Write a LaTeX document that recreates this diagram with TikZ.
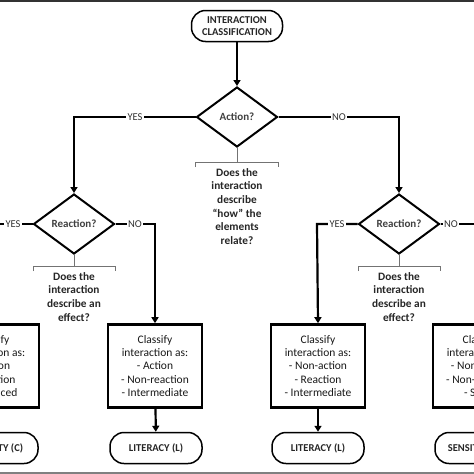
\documentclass[tikz,border=0pt]{standalone}
\usepackage{fontspec}
\setmainfont{Carlito}
\usetikzlibrary{shapes.geometric,arrows.meta}
\begin{document}
\begin{tikzpicture}[x=1pt,y=-1pt,
  flow/.style={line width=2.2pt, draw=black},
  arr/.style={flow, -{Triangle[length=6pt,width=7pt]}},
  term/.style={draw, line width=1.5pt, rounded corners=14pt, minimum width=91pt, minimum height=31pt, inner sep=0pt, align=center, text=black!85, font=\bfseries\fontsize{10.5}{12.5}\selectfont},
  dia/.style={draw, diamond, line width=2pt, minimum width=81pt, minimum height=60pt, inner sep=0pt, text=black!75, font=\bfseries\fontsize{11}{13}\selectfont},
  cbox/.style={draw, line width=2.6pt, minimum width=94pt, minimum height=83pt, inner sep=0pt, align=center, text=black!90, font=\fontsize{11.5}{13.4}\selectfont},
  ques/.style={anchor=north, align=center, inner sep=0pt, text=black!85, font=\bfseries\fontsize{11.3}{13.7}\selectfont},
  lbl/.style={fill=white, inner sep=1.2pt, text=black!80, font=\fontsize{10.5}{12}\selectfont},
  brk/.style={draw=black!55, line width=0.8pt}
]
\useasboundingbox (0,0) rectangle (474,474);
\clip (0,0) rectangle (474,474);
\fill[white] (0,0) rectangle (474,474);
% frame bands
\fill[black!80] (0,0) rectangle (474,2);
\fill[black!50] (0,472) rectangle (474,474);

% nodes
\node[term] (start) at (237,26) {INTERACTION\\CLASSIFICATION};
\node[dia] (action) at (237,117) {Action?};
\node[dia] (reactL) at (74,224) {Reaction?};
\node[dia] (reactR) at (399,224) {Reaction?};

\node[cbox] (boxC) at (-8,366) {Classify\\interaction as:\\- Action\\- Reaction\\- Produced};
\node[cbox] (boxL1) at (155,366) {Classify\\interaction as:\\- Action\\- Non-reaction\\- Intermediate};
\node[cbox] (boxL2) at (318,366) {Classify\\interaction as:\\- Non-action\\- Reaction\\- Intermediate};
\node[cbox] (boxS) at (480,366) {Classify\\interaction as:\\- Non-action\\- Non-reaction\\- Static};

\node[term, minimum width=92pt] (termC) at (-8,448) {CAUSALITY (C)};
\node[term, minimum width=92pt] (termL1) at (156,448) {LITERACY (L)};
\node[term, minimum width=92pt] (termL2) at (318,448) {LITERACY (L)};
\node[term, minimum width=92pt] (termS) at (481,448) {SENSITIVITY (S)};

% question texts
\node[ques] (qA) at (237,168) {Does the\\interaction\\describe\\“how” the\\elements\\relate?};
\node[ques] (qL) at (74,272) {Does the\\interaction\\describe an\\effect?};
\node[ques] (qR) at (399,272) {Does the\\interaction\\describe an\\effect?};

% corner coordinates
\coordinate (cAL) at (74,117);
\coordinate (cAR) at (399,117);
\coordinate (cLY) at (-8,224);
\coordinate (cLN) at (155,224);
\coordinate (cRY) at (317,224);
\coordinate (cRN) at (520,224);

% brackets
\coordinate (bA) at (237,162);
\coordinate (bL) at (74,266);
\coordinate (bR) at (399,266);
\draw[brk] (action.south) -- (bA);
\draw[brk] (195,167) -- (195,162) -- (278,162) -- (278,167);
\draw[brk] (reactL.south) -- (bL);
\draw[brk] (33,271) -- (33,266) -- (115,266) -- (115,271);
\draw[brk] (reactR.south) -- (bR);
\draw[brk] (358,271) -- (358,266) -- (440,266) -- (440,271);

% flow
\draw[arr] (start) -- (action);
\draw[arr] (action.west) -- (cAL) -- (reactL.north);
\draw[arr] (action.east) -- (cAR) -- (reactR.north);
\draw[arr] (reactL.west) -- (cLY) -- (boxC.north);
\draw[arr] (reactL.east) -- (cLN) -- (boxL1.north);
\draw[arr] (reactR.west) -- (cRY) -- (boxL2.north);
\draw[flow] (reactR.east) -- (cRN);
\draw[arr] (boxC) -- (termC);
\draw[arr] (boxL1) -- (termL1);
\draw[arr] (boxL2) -- (termL2);
\draw[arr] (boxS) -- (termS);

% labels
\node[lbl] at (135,117) {YES};
\node[lbl] at (339,117) {NO};
\node[lbl] at (13,224) {YES};
\node[lbl] at (135,224) {NO};
\node[lbl] at (337,224) {YES};
\node[lbl] at (451,224) {NO};
\end{tikzpicture}
\end{document}
